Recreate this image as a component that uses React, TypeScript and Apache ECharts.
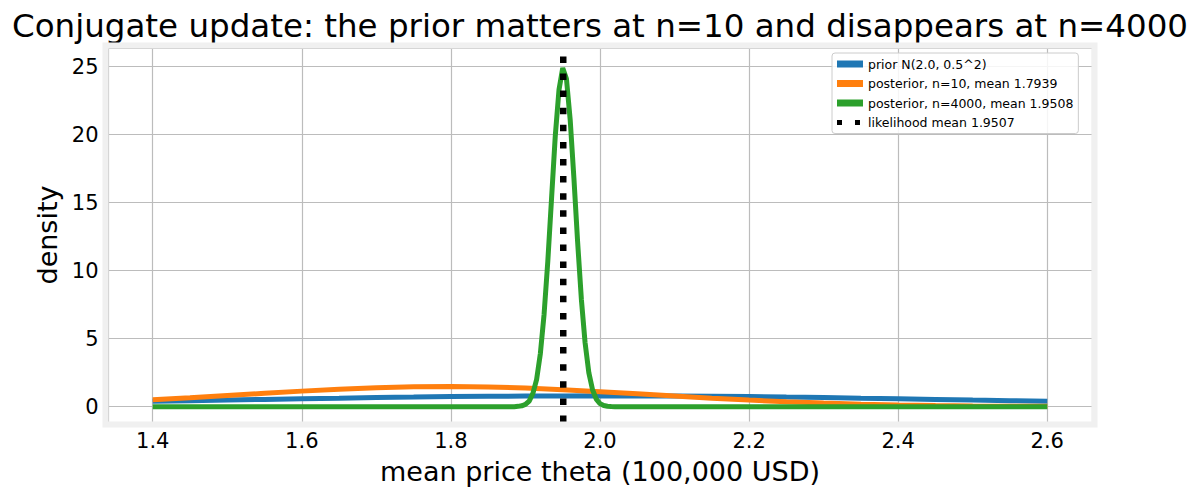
import * as echarts from 'echarts';
import { useEffect, useRef } from 'react';

// grid of theta values used for the prior and the n=10 posterior
const thetaGrid = [
  1.4, 1.45, 1.5, 1.55, 1.6, 1.65, 1.7, 1.75, 1.8, 1.85, 1.9, 1.95, 2.0,
  2.05, 2.1, 2.15, 2.2, 2.25, 2.3, 2.35, 2.4, 2.45, 2.5, 2.55, 2.6,
];

const priorDensity = [
  0.39, 0.44, 0.48, 0.53, 0.58, 0.62, 0.67, 0.7, 0.74, 0.76, 0.78, 0.79, 0.8,
  0.79, 0.78, 0.76, 0.74, 0.7, 0.67, 0.62, 0.58, 0.53, 0.48, 0.44, 0.39,
];

const posteriorN10Density = [
  0.51, 0.66, 0.82, 0.98, 1.14, 1.28, 1.39, 1.46, 1.48, 1.45, 1.37, 1.25,
  1.1, 0.94, 0.78, 0.62, 0.48, 0.36, 0.26, 0.18, 0.12, 0.08, 0.05, 0.03, 0.02,
];

// the n=4000 posterior is narrow, so it gets its own denser grid
const thetaGridN4000 = [
  1.4, 1.85, 1.885, 1.89, 1.895, 1.9, 1.905, 1.91, 1.915, 1.92, 1.925, 1.93,
  1.935, 1.94, 1.945, 1.95, 1.955, 1.96, 1.965, 1.97, 1.975, 1.98, 1.985,
  1.99, 1.995, 2.0, 2.005, 2.01, 2.015, 2.02, 2.05, 2.6,
];

const posteriorN4000Density = [
  0, 0, 0, 0.02, 0.06, 0.16, 0.41, 0.97, 2.0, 3.9, 6.8, 10.7, 15.3, 19.9,
  23.3, 24.9, 24.1, 21.1, 16.8, 12.1, 7.9, 4.7, 2.5, 1.24, 0.55, 0.22, 0.08,
  0.03, 0.01, 0, 0, 0,
];

const likelihoodMean = 1.9507;

const seriesNames = [
  'prior N(2.0, 0.5^2)',
  'posterior, n=10, mean 1.7939',
  'posterior, n=4000, mean 1.9508',
  'likelihood mean 1.9507',
];

const xMin = 1.34;
const xMax = 2.66;
const yMin = -1.13;
const yMax = 26.37;

const FONT = 'DejaVu Sans';

function App() {
  const chartRef = useRef<HTMLDivElement>(null);

  useEffect(() => {
    const myChart = echarts.init(chartRef.current, null, { renderer: 'svg' });

    const pairs = (xs: number[], ys: number[]) => xs.map((x, i) => [x, ys[i]]);

    const option = {
      animation: false,
      backgroundColor: '#ffffff',
      textStyle: { fontFamily: FONT },
      title: {
        text: 'Conjugate update: the prior matters at n=10 and disappears at n=4000',
        left: 'center',
        top: 9.75,
        padding: 0,
        textStyle: {
          fontFamily: FONT,
          fontSize: 32.5,
          fontWeight: 'normal',
          color: '#000000',
        },
      },
      legend: {
        orient: 'vertical',
        left: 832,
        top: 53,
        padding: [4, 5, 4, 5],
        itemWidth: 26,
        itemHeight: 7,
        itemGap: 5.5,
        backgroundColor: 'rgba(255,255,255,0.85)',
        borderColor: '#cccccc',
        borderWidth: 1,
        borderRadius: 3,
        textStyle: {
          fontFamily: FONT,
          fontSize: 12.5,
          lineHeight: 14,
          color: '#000000',
        },
        data: [
          { name: seriesNames[0], icon: 'rect' },
          { name: seriesNames[1], icon: 'rect' },
          { name: seriesNames[2], icon: 'rect' },
          {
            name: seriesNames[3],
            icon: 'path://M0,1H5V6H0Z M18,1H23V6H18Z M26,0H26.01V7H26Z',
          },
        ],
      },
      grid: {
        left: 108,
        right: 108,
        top: 48,
        bottom: 76,
      },
      xAxis: {
        type: 'value',
        min: xMin,
        max: xMax,
        splitNumber: 6,
        name: 'mean price theta (100,000 USD)',
        nameLocation: 'middle',
        nameGap: 35.5,
        nameTextStyle: { fontFamily: FONT, fontSize: 27, color: '#000000' },
        axisLine: { show: false },
        axisTick: { show: false },
        axisLabel: {
          showMinLabel: false,
          showMaxLabel: false,
          margin: 8.5,
          fontFamily: FONT,
          fontSize: 21,
          color: '#000000',
          formatter: (v: number) => v.toFixed(1),
        },
        splitLine: { show: true, lineStyle: { color: '#bcbcbc', width: 1.2 } },
      },
      yAxis: {
        type: 'value',
        min: yMin,
        max: yMax,
        splitNumber: 5,
        name: 'density',
        nameLocation: 'middle',
        nameGap: 47,
        nameTextStyle: { fontFamily: FONT, fontSize: 27, color: '#000000' },
        axisLine: { show: false },
        axisTick: { show: false },
        axisLabel: {
          showMinLabel: false,
          showMaxLabel: false,
          margin: 9.5,
          fontFamily: FONT,
          fontSize: 21,
          color: '#000000',
        },
        splitLine: { show: true, lineStyle: { color: '#bcbcbc', width: 1.2 } },
      },
      graphic: [
        {
          type: 'rect',
          z: 100,
          silent: true,
          shape: { x: 105.5, y: 45.5, width: 989, height: 379 },
          style: { fill: 'none', stroke: '#f0f0f0', lineWidth: 6 },
        },
      ],
      series: [
        {
          name: seriesNames[0],
          type: 'line',
          color: '#1f77b4',
          showSymbol: false,
          lineStyle: { width: 5, color: '#1f77b4' },
          data: pairs(thetaGrid, priorDensity),
        },
        {
          name: seriesNames[1],
          type: 'line',
          color: '#ff7f0e',
          showSymbol: false,
          lineStyle: { width: 5, color: '#ff7f0e' },
          data: pairs(thetaGrid, posteriorN10Density),
        },
        {
          name: seriesNames[2],
          type: 'line',
          color: '#2ca02c',
          showSymbol: false,
          lineStyle: { width: 5, color: '#2ca02c' },
          data: pairs(thetaGridN4000, posteriorN4000Density),
        },
        {
          name: seriesNames[3],
          type: 'line',
          color: '#000000',
          showSymbol: false,
          lineStyle: {
            width: 6.5,
            color: '#000000',
            type: [6.5, 10.6],
            cap: 'butt',
          },
          data: [
            [likelihoodMean, yMin],
            [likelihoodMean, yMax],
          ],
        },
      ],
    };

    myChart.setOption(option);

    return () => {
      myChart.dispose();
    };
  }, []);

  return (
    <div
      ref={chartRef}
      style={{ position: 'fixed', left: 0, top: 0, width: '1200px', height: '498px' }}
    ></div>
  );
}

export default App;
